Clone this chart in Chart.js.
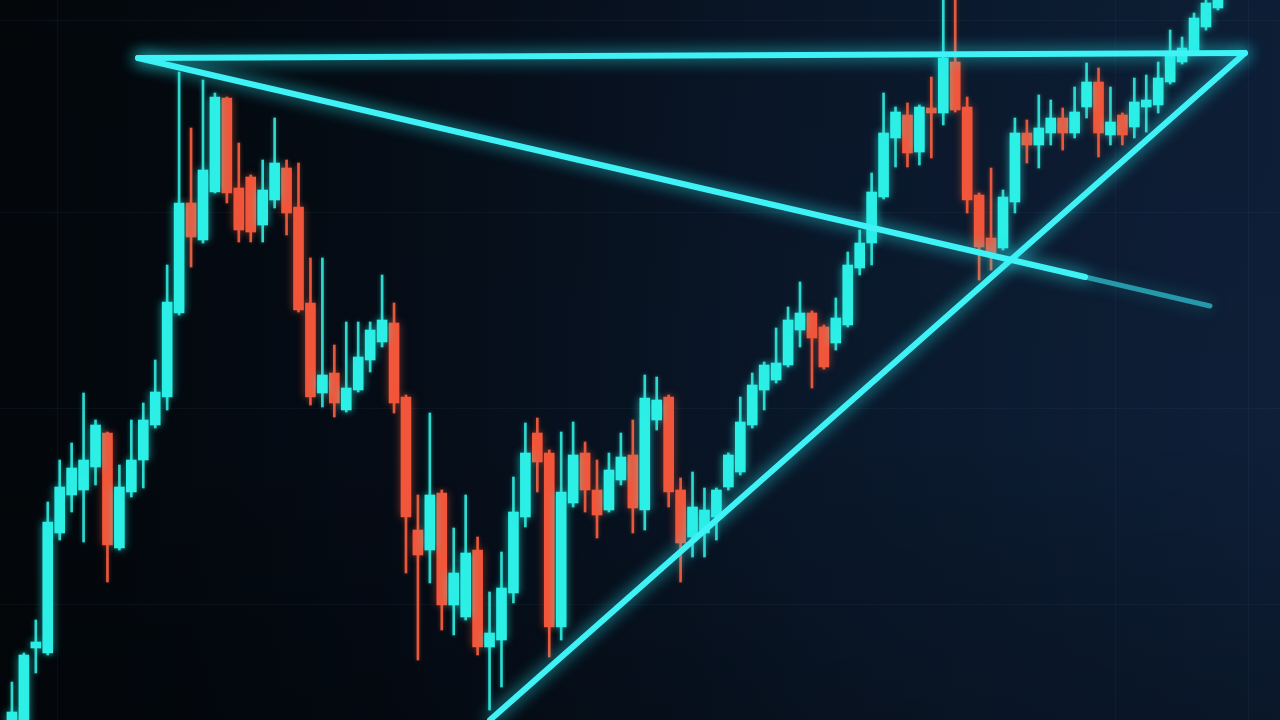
<!DOCTYPE html>
<html>
<head>
<meta charset="utf-8">
<script src="https://cdn.jsdelivr.net/npm/chart.js@4.4.1/dist/chart.umd.min.js"></script>
<style>
html,body{margin:0;padding:0;background:#050b14;overflow:hidden}
#wrap{width:1280px;height:720px;position:relative}
canvas{display:block}
</style>
</head>
<body>
<div id="wrap"><canvas id="c" width="1280" height="720"></canvas></div>
<script>
// ---- Candle data (price units) ----
const openP = [-1.0,-1.0,7.2,6.7,18.7,22.5,23.0,25.3,28.7,17.2,
  22.8,26.0,29.5,32.3,40.7,51.7,48.0,52.8,62.2,53.2,
  54.3,49.5,52.0,55.2,51.3,41.7,32.7,34.7,31.0,33.0,
  36.0,37.8,39.7,32.3,19.0,17.0,22.7,11.5,10.3,17.0,
  7.3,8.0,12.7,20.3,28.7,26.7,9.3,21.7,26.7,23.0,
  21.0,24.0,26.5,21.0,30.0,32.3,23.0,18.3,18.7,20.3,
  23.3,24.8,29.5,33.0,34.0,35.5,39.0,40.7,39.3,37.7,
  39.5,45.2,47.7,52.3,58.2,60.5,56.8,61.2,60.7,65.8,
  61.3,52.5,48.2,47.2,51.8,58.7,57.5,58.7,60.2,58.7,
  61.3,63.8,58.5,60.5,59.3,61.3,61.5,63.8,65.8,66.8,
  69.3,71.2];
const highP = [3.8,6.7,10.0,21.8,26.0,27.7,32.7,30.0,28.8,25.5,
  30.0,31.7,36.0,45.5,64.8,59.2,64.0,62.7,62.3,57.7,
  54.5,56.0,60.2,56.0,55.7,46.2,46.2,37.5,39.8,39.8,
  39.8,44.5,41.7,32.5,22.5,30.7,23.0,19.2,22.5,18.3,
  12.8,16.8,24.3,29.7,30.2,27.0,28.8,29.8,27.8,26.0,
  26.7,28.7,30.0,34.5,34.3,32.5,24.2,24.8,23.2,23.2,
  26.7,32.3,34.7,35.8,39.2,41.3,43.8,40.9,39.5,42.2,
  46.8,49.0,54.7,62.7,61.3,61.7,61.5,64.3,73.0,73.0,
  62.3,52.7,55.2,53.0,60.2,60.0,62.5,62.0,61.2,63.3,
  65.7,65.2,63.3,60.7,64.2,64.5,65.8,69.0,68.3,70.7,
  72.0,73.0];
const lowP = [-1.0,-1.0,4.7,6.5,18.0,20.8,17.8,23.5,13.8,17.0,
  22.3,23.2,29.2,31.0,40.5,45.3,47.7,52.7,51.7,47.8,
  47.8,47.8,51.2,48.5,40.8,31.5,31.3,30.3,30.8,32.8,
  34.8,37.3,30.7,14.7,6.0,13.7,9.0,8.5,10.0,6.5,
  1.0,3.3,11.7,19.3,22.8,6.3,8.0,21.3,20.8,18.2,
  20.8,23.5,18.7,19.0,29.0,21.3,13.8,16.3,16.3,18.0,
  23.0,24.5,29.2,31.0,33.7,35.3,37.3,33.2,35.1,37.0,
  39.3,44.5,45.5,52.1,55.3,55.3,55.5,56.2,59.5,60.8,
  50.7,44.0,45.0,47.0,50.7,55.7,55.2,57.5,57.0,58.2,
  60.2,56.3,57.5,57.5,58.2,58.8,60.7,63.6,65.6,66.6,
  69.0,71.0];
const closeP = [0.8,6.5,7.8,19.8,23.3,25.2,26.0,29.5,17.5,23.3,
  26.0,30.0,32.8,41.8,51.7,48.3,55.0,62.3,52.7,49.0,
  48.8,53.0,55.7,50.7,41.0,32.3,34.5,31.7,33.2,36.3,
  39.0,40.0,31.7,20.3,16.5,22.5,11.5,14.7,16.7,7.3,
  8.7,13.2,20.8,26.7,25.8,9.3,22.8,26.5,23.0,20.5,
  25.0,26.3,21.2,32.2,32.0,22.8,17.7,21.3,21.0,23.0,
  26.5,29.8,33.5,35.5,35.7,40.0,40.7,38.2,35.3,40.2,
  45.5,47.7,52.8,58.7,60.8,56.7,61.3,60.7,66.2,61.0,
  52.0,47.3,46.7,52.3,58.7,57.5,59.2,60.2,58.7,60.8,
  63.8,58.7,59.8,58.5,61.8,62.0,64.2,66.7,67.2,70.2,
  71.7,72.5];
const candleIndex = openP.map((_, i) => i);

// ---- Trend lines (candle index, price) ----
const resistanceLine = [{x:10.56, y:66.2}, {x:103.27, y:66.7}];
const fallingLine = [{x:10.56, y:66.2}, {x:89.87, y:44.3}];
const fallingLineFaded = [{x:89.87, y:44.3}, {x:100.34, y:41.4}];
const risingLine = [{x:40.04, y:0.0}, {x:103.27, y:66.7}];

// ---- Build datasets ----
const CYAN = '#2cefe6';
const RED = '#f2563a';
const bullIdx = candleIndex.filter(i => closeP[i] >= openP[i]);
const bearIdx = candleIndex.filter(i => closeP[i] < openP[i]);
const wickData = idx => idx.map(i => ({x: i, y: [lowP[i], highP[i]]}));
const bodyData = idx => idx.map(i => ({x: i, y: [Math.min(openP[i], closeP[i]), Math.max(openP[i], closeP[i])]}));

const lineDs = (data, color, width, glow, order) => ({
  type: 'line', data, borderColor: color, borderWidth: width, pointRadius: 0,
  borderCapStyle: 'round', tension: 0, fill: false, order, glowColor: glow, glowBlur: 16
});

const bgPlugin = {
  id: 'bg',
  beforeDraw(chart) {
    const {ctx, width, height} = chart;
    ctx.save();
    const g = ctx.createLinearGradient(0, 0, width, 0);
    g.addColorStop(0, '#03070b');
    g.addColorStop(0.3, '#050c16');
    g.addColorStop(0.65, '#0a182b');
    g.addColorStop(1, '#0e1f38');
    ctx.fillStyle = g;
    ctx.fillRect(0, 0, width, height);
    const v = ctx.createLinearGradient(0, 0, 0, height);
    v.addColorStop(0, 'rgba(0,0,0,0.05)');
    v.addColorStop(0.6, 'rgba(0,0,0,0)');
    v.addColorStop(1, 'rgba(0,0,0,0.25)');
    ctx.fillStyle = v;
    ctx.fillRect(0, 0, width, height);
    ctx.strokeStyle = 'rgba(140,170,210,0.05)';
    ctx.lineWidth = 1;
    [20, 212, 408, 604].forEach(y => { ctx.beginPath(); ctx.moveTo(0, y + 0.5); ctx.lineTo(width, y + 0.5); ctx.stroke(); });
    [57, 1115, 1248].forEach(x => { ctx.beginPath(); ctx.moveTo(x + 0.5, 0); ctx.lineTo(x + 0.5, height); ctx.stroke(); });
    ctx.restore();
  }
};
const glowPlugin = {
  id: 'glow',
  beforeDatasetDraw(chart, args) {
    const ds = chart.data.datasets[args.index];
    const ctx = chart.ctx;
    ctx.save();
    ctx.shadowColor = ds.glowColor || 'rgba(0,0,0,0)';
    ctx.shadowBlur = ds.glowBlur || 0;
  },
  afterDatasetDraw(chart) { chart.ctx.restore(); }
};

new Chart(document.getElementById('c').getContext('2d'), {
  type: 'bar',
  data: {
    datasets: [
      lineDs(resistanceLine, '#3ff2f6', 6, 'rgba(40,235,245,0.9)', 0),
      lineDs(fallingLine, '#3ff2f6', 6, 'rgba(40,235,245,0.9)', 0),
      lineDs(fallingLineFaded, 'rgba(45,190,205,0.75)', 5, 'rgba(40,200,215,0.5)', 0),
      lineDs(risingLine, '#3ff2f6', 6, 'rgba(40,235,245,0.9)', 0),
      {data: bodyData(bullIdx), backgroundColor: CYAN, barThickness: 10, minBarLength: 3, grouped: false, order: 1, glowColor: 'rgba(40,240,230,0.6)', glowBlur: 8},
      {data: bodyData(bearIdx), backgroundColor: RED, barThickness: 10, minBarLength: 3, grouped: false, order: 1, glowColor: 'rgba(240,90,60,0.5)', glowBlur: 8},
      {data: wickData(bullIdx), backgroundColor: '#2fd9cf', barThickness: 2, grouped: false, order: 2, glowColor: 'rgba(40,240,230,0.4)', glowBlur: 4},
      {data: wickData(bearIdx), backgroundColor: '#e8583c', barThickness: 2, grouped: false, order: 2, glowColor: 'rgba(240,90,60,0.4)', glowBlur: 4}
    ]
  },
  options: {
    responsive: false,
    animation: false,
    events: [],
    layout: {padding: 0, autoPadding: false},
    plugins: {legend: {display: false}, tooltip: {enabled: false}},
    scales: {
      x: {type: 'linear', min: -1.0, max: 106.2, display: false, offset: false, bounds: 'data', grace: 0, grid: {offset: false, display: false}, ticks: {display: false}},
      y: {type: 'linear', min: 0, max: 72, display: false, grace: 0, grid: {display: false}, ticks: {display: false}}
    }
  },
  plugins: [bgPlugin, glowPlugin]
});
</script>
</body>
</html>
